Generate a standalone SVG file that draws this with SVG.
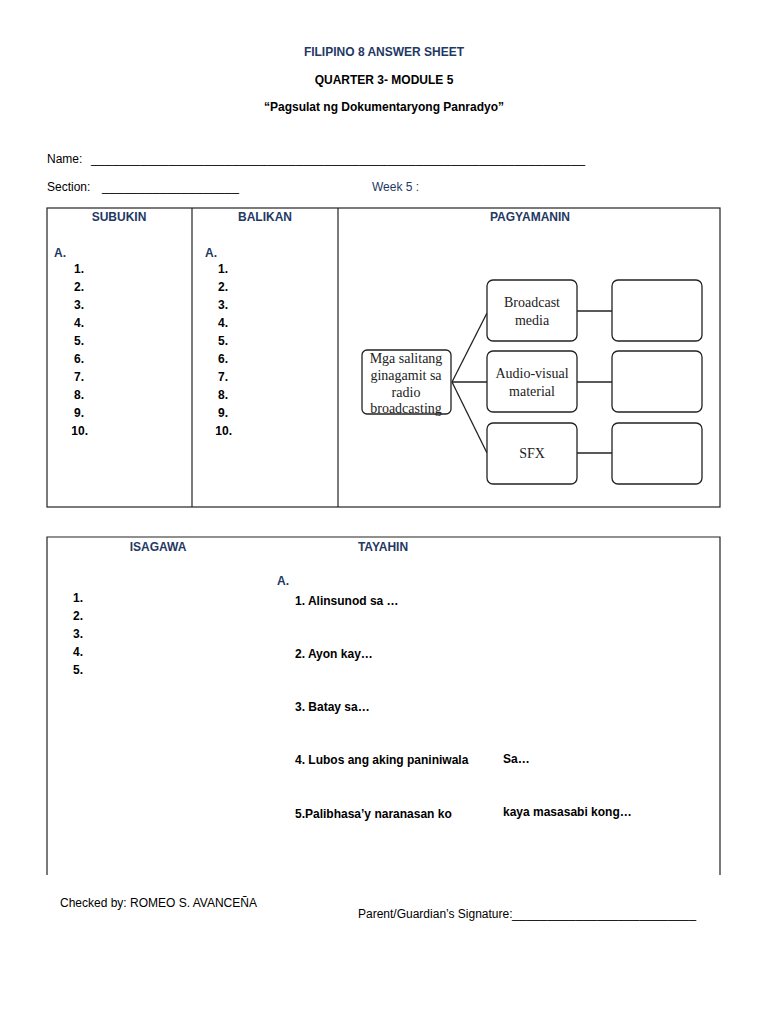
<svg xmlns="http://www.w3.org/2000/svg" width="768" height="1024" viewBox="0 0 768 1024">
<style>
text{font-family:"Liberation Sans",Arial,sans-serif;font-size:12px;fill:#000}
.b{font-weight:bold}
.h{font-weight:bold;fill:#1f3864}
.blue{fill:#1f3864}
.s{font-family:"Liberation Serif","Times New Roman",serif;font-size:14px;fill:#222}
.box{fill:#fff;stroke:#222;stroke-width:1.3}
.tb{fill:none;stroke:#222;stroke-width:1.2}
.ln{stroke:#222;stroke-width:1.3;fill:none}
.n{text-anchor:end;font-weight:bold}
</style>
<rect width="768" height="1024" fill="#fff"/>
<text x="384" y="56" text-anchor="middle" class="h">FILIPINO 8 ANSWER SHEET</text>
<text x="384" y="84" text-anchor="middle" class="b" font-size="11">QUARTER 3- MODULE 5</text>
<text x="384" y="111" text-anchor="middle" class="b" font-size="11">“Pagsulat ng Dokumentaryong Panradyo”</text>
<text x="47" y="163" font-size="13">Name:</text>
<text x="91" y="163" font-size="13" textLength="494" lengthAdjust="spacingAndGlyphs">______________________________________________________________________</text>
<text x="47" y="191" font-size="13">Section:</text>
<text x="102" y="191" font-size="13" textLength="137" lengthAdjust="spacingAndGlyphs">___________________</text>
<text x="372" y="191" class="blue" font-size="13">Week 5 :</text>
<g id="table1">
<rect x="47" y="208" width="673" height="299" class="tb"/>
<line x1="192" y1="208" x2="192" y2="507" class="tb"/>
<line x1="338" y1="208" x2="338" y2="507" class="tb"/>
<text x="119" y="221" text-anchor="middle" class="h" font-size="11">SUBUKIN</text>
<text x="265" y="221" text-anchor="middle" class="h" font-size="11">BALIKAN</text>
<text x="530" y="221" text-anchor="middle" class="h" font-size="11">PAGYAMANIN</text>
<text x="54" y="257" class="h">A.</text>
<text x="205" y="257" class="h">A.</text>
<text x="84" y="273" class="n">1.</text><text x="84" y="291" class="n">2.</text><text x="84" y="309" class="n">3.</text><text x="84" y="327" class="n">4.</text><text x="84" y="345" class="n">5.</text><text x="84" y="363" class="n">6.</text><text x="84" y="381" class="n">7.</text><text x="84" y="399" class="n">8.</text><text x="84" y="417" class="n">9.</text><text x="88" y="435" class="n">10.</text>
<text x="228" y="273" class="n">1.</text><text x="228" y="291" class="n">2.</text><text x="228" y="309" class="n">3.</text><text x="228" y="327" class="n">4.</text><text x="228" y="345" class="n">5.</text><text x="228" y="363" class="n">6.</text><text x="228" y="381" class="n">7.</text><text x="228" y="399" class="n">8.</text><text x="228" y="417" class="n">9.</text><text x="232" y="435" class="n">10.</text>
</g>
<g id="connectors">
<line x1="452" y1="382" x2="487" y2="313" class="ln"/>
<line x1="452" y1="382" x2="487" y2="382" class="ln"/>
<line x1="452" y1="382" x2="487" y2="453" class="ln"/>
<line x1="577" y1="311" x2="612" y2="311" class="ln"/>
<line x1="577" y1="382" x2="612" y2="382" class="ln"/>
<line x1="577" y1="453" x2="612" y2="453" class="ln"/>
</g>
<g id="center"><rect x="362" y="350" width="89" height="64" rx="5" class="box"/>
<text class="s" text-anchor="middle" font-size="13.5"><tspan x="406" y="363">Mga salitang</tspan><tspan x="406" y="380">ginagamit sa</tspan><tspan x="406" y="397">radio</tspan><tspan x="406" y="413">broadcasting</tspan></text></g>
<g id="bm"><rect x="487" y="280" width="90" height="61" rx="6" class="box"/>
<text class="s" text-anchor="middle"><tspan x="532" y="307">Broadcast</tspan><tspan x="532" y="325">media</tspan></text></g>
<g id="av"><rect x="487" y="351" width="90" height="61" rx="6" class="box"/>
<text class="s" text-anchor="middle"><tspan x="532" y="378">Audio-visual</tspan><tspan x="532" y="396">material</tspan></text></g>
<g id="sfx"><rect x="487" y="423" width="90" height="61" rx="6" class="box"/>
<text class="s" text-anchor="middle" x="532" y="458">SFX</text></g>
<g id="r1"><rect x="612" y="280" width="90" height="61" rx="6" class="box"/></g>
<g id="r2"><rect x="612" y="351" width="90" height="61" rx="6" class="box"/></g>
<g id="r3"><rect x="612" y="423" width="90" height="61" rx="6" class="box"/></g>
<g id="table2">
<path d="M47 875 V537 H720 V875" class="tb"/>
<text x="158" y="551" text-anchor="middle" class="h" font-size="11">ISAGAWA</text>
<text x="383" y="551" text-anchor="middle" class="h" font-size="11">TAYAHIN</text>
<text x="83" y="602" class="n">1.</text><text x="83" y="620" class="n">2.</text><text x="83" y="638" class="n">3.</text><text x="83" y="656" class="n">4.</text><text x="83" y="674" class="n">5.</text>
<text x="277" y="585" class="h">A.</text>
<text x="295" y="605" class="b">1. Alinsunod sa …</text>
<text x="295" y="658" class="b">2. Ayon kay…</text>
<text x="295" y="711" class="b">3. Batay sa…</text>
<text x="295" y="764" class="b">4. Lubos ang aking paniniwala</text>
<text x="503" y="763" class="b">Sa…</text>
<text x="295" y="818" class="b" font-size="12.5">5.Palibhasa’y naranasan ko</text>
<text x="503" y="816" class="b">kaya masasabi kong…</text>
</g>
<text x="60" y="907" font-size="11">Checked by: ROMEO S. AVANCEÑA</text>
<text x="358" y="918" font-size="11">Parent/Guardian’s Signature:</text>
<text x="512" y="918" font-size="11" textLength="184" lengthAdjust="spacingAndGlyphs">__________________________</text>
</svg>
